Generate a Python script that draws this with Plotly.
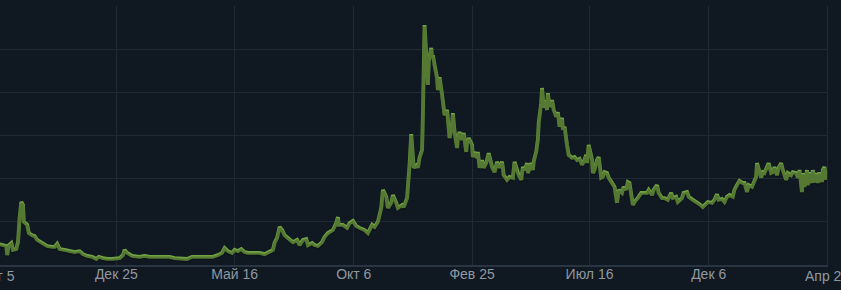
import pandas as pd
import plotly.graph_objects as go

# ---- data ----
start_date = "2021-08-05"
day_offsets = [
    2, 6, 10, 11, 13, 16, 18, 22, 24, 26, 28, 30, 31, 35, 37, 41, 44, 47, 53, 59,
    65, 68, 71, 74, 80, 86, 92, 98, 102, 107, 113, 118, 121, 126, 131, 137, 143, 146, 150, 152,
    155, 161, 170, 176, 182, 194, 206, 212, 221, 227, 233, 240, 251, 258, 264, 269, 272, 276, 281, 284,
    288, 292, 296, 300, 308, 314, 320, 326, 330, 332, 335, 338, 341, 344, 350, 354, 359, 362, 366, 370,
    372, 377, 380, 384, 389, 392, 396, 402, 406, 408, 409, 414, 419, 422, 426, 430, 434, 440, 444, 449,
    452, 456, 460, 462, 466, 468, 472, 474, 478, 480, 485, 487, 491, 492, 494, 496, 498, 499, 503, 504,
    506, 509, 510, 511, 512, 514, 515, 516, 517, 520, 521, 522, 524, 527, 528, 530, 533, 534, 536, 539,
    540, 542, 545, 546, 548, 551, 552, 554, 557, 559, 562, 563, 565, 569, 570, 572, 575, 576, 578, 581,
    583, 586, 589, 593, 596, 599, 602, 605, 607, 611, 614, 618, 620, 623, 625, 628, 630, 632, 635, 636,
    640, 642, 643, 646, 648, 649, 652, 653, 655, 656, 659, 660, 662, 665, 667, 670, 672, 674, 677, 678,
    680, 683, 685, 689, 692, 695, 698, 701, 703, 706, 707, 709, 713, 714, 716, 719, 721, 724, 726, 728,
    731, 733, 737, 740, 743, 745, 749, 751, 754, 756, 758, 761, 762, 766, 768, 772, 774, 779, 781, 785,
    787, 791, 793, 797, 800, 804, 808, 810, 814, 816, 821, 823, 827, 829, 834, 839, 842, 846, 850, 852,
    857, 860, 863, 865, 869, 872, 875, 878, 882, 884, 887, 890, 894, 896, 899, 901, 905, 907, 910, 911,
    913, 916, 918, 920, 923, 925, 928, 930, 932, 935, 937, 940, 942, 943, 946, 948, 952, 954, 958, 960,
    962, 965, 966, 968, 971, 972, 974, 977, 978, 980, 983, 984, 986, 989, 990, 992, 994,
]
prices = [
    0.48, 0.46, 0.44, 0.23, 0.46, 0.51, 0.35, 0.37, 0.53, 1.09, 1.46, 1.39, 1.00, 0.93, 0.74, 0.69, 0.67, 0.58, 0.51, 0.44,
    0.42, 0.42, 0.49, 0.37, 0.35, 0.32, 0.30, 0.32, 0.25, 0.21, 0.19, 0.14, 0.19, 0.16, 0.14, 0.14, 0.16, 0.16, 0.23, 0.35,
    0.28, 0.21, 0.19, 0.21, 0.19, 0.19, 0.19, 0.16, 0.14, 0.14, 0.19, 0.19, 0.19, 0.19, 0.23, 0.28, 0.39, 0.32, 0.28, 0.35,
    0.32, 0.37, 0.30, 0.28, 0.28, 0.28, 0.25, 0.30, 0.35, 0.51, 0.63, 0.88, 0.81, 0.69, 0.58, 0.53, 0.58, 0.46, 0.58, 0.60,
    0.46, 0.51, 0.46, 0.44, 0.53, 0.65, 0.74, 0.81, 0.97, 1.11, 0.93, 0.93, 0.86, 0.97, 1.02, 0.90, 0.86, 0.81, 0.74, 0.93,
    0.88, 1.00, 1.32, 1.74, 1.58, 1.32, 1.44, 1.62, 1.44, 1.32, 1.39, 1.34, 1.55, 1.74, 2.32, 3.03, 2.39, 2.25, 2.32, 2.25,
    2.48, 2.66, 3.47, 4.86, 5.56, 4.86, 4.47, 4.17, 4.70, 5.03, 4.80, 4.86, 4.63, 4.33, 4.05, 4.35, 3.94, 3.71, 3.47, 3.59,
    3.31, 2.94, 3.24, 3.52, 3.08, 2.71, 2.94, 3.08, 2.90, 3.06, 2.62, 2.83, 2.94, 2.78, 2.50, 2.62, 2.48, 2.62, 2.25, 2.43,
    2.25, 2.36, 2.59, 2.27, 2.15, 2.39, 2.25, 2.39, 2.08, 1.97, 2.04, 2.02, 2.39, 2.15, 2.08, 1.97, 2.27, 2.20, 2.36, 2.13,
    2.36, 2.20, 2.39, 2.62, 2.90, 3.29, 3.75, 4.10, 3.64, 3.82, 3.59, 3.98, 3.66, 3.82, 3.59, 3.43, 3.54, 3.20, 3.41, 3.13,
    3.20, 2.78, 2.55, 2.48, 2.50, 2.43, 2.46, 2.32, 2.39, 2.55, 2.36, 2.78, 2.43, 2.13, 2.20, 2.43, 2.50, 2.02, 2.04, 2.15,
    2.13, 2.02, 1.90, 1.81, 1.44, 1.74, 1.67, 1.81, 1.74, 1.92, 1.90, 1.55, 1.39, 1.51, 1.55, 1.67, 1.67, 1.67, 1.74, 1.62,
    1.74, 1.85, 1.67, 1.55, 1.55, 1.51, 1.67, 1.55, 1.58, 1.46, 1.55, 1.67, 1.69, 1.58, 1.51, 1.46, 1.41, 1.34, 1.41, 1.46,
    1.44, 1.51, 1.64, 1.51, 1.53, 1.46, 1.58, 1.62, 1.58, 1.74, 1.85, 1.95, 1.90, 1.90, 1.69, 1.85, 1.81, 1.92, 2.04, 2.36,
    2.25, 2.02, 2.15, 2.13, 2.27, 2.36, 2.13, 2.15, 2.27, 2.08, 2.25, 2.36, 2.20, 2.13, 1.97, 2.13, 2.08, 2.15, 2.13, 2.02,
    2.20, 1.69, 2.13, 1.81, 2.20, 1.85, 2.15, 1.90, 2.20, 1.92, 2.13, 1.90, 2.15, 1.92, 2.20, 2.27, 1.97,
]
tick_dates = ["2021-08-05", "2021-12-25", "2022-05-16", "2022-10-06",
              "2023-02-25", "2023-07-16", "2023-12-06", "2024-04-26"]
tick_text = ["Авг 5", "Дек 25", "Май 16", "Окт 6", "Фев 25", "Июл 16", "Дек 6", "Апр 26"]

# ---- styling ----
BG = "#101822"
GRID = "#1f2a37"
AXIS = "#2a3544"
LINE = "#72a243"
LABEL = "#8f98a0"
FONT = "Arial, Liberation Sans, sans-serif"

dates = pd.Timestamp(start_date) + pd.to_timedelta(day_offsets, unit="D")
x_start = pd.Timestamp(start_date) + pd.Timedelta(days=2.4)
x_end = pd.Timestamp(tick_dates[-1]) + pd.Timedelta(hours=1)
y_top = 6
shift = 1.5 * y_top / 259.0  # shadow offset

fig = go.Figure()
fig.add_trace(go.Scatter(x=dates, y=prices, mode="lines", yaxis="y2",
                         line=dict(color="rgba(0,0,0,0.25)", width=3.5),
                         hoverinfo="skip", showlegend=False))
fig.add_trace(go.Scatter(x=dates, y=prices, mode="lines",
                         line=dict(color=LINE, width=3.8), showlegend=False))

# tick labels lying at/just outside the visible range (cut off at the edges)
span = x_end - x_start
edge_labels = []
for d, t in [(tick_dates[0], tick_text[0]), (tick_dates[-1], tick_text[-1])]:
    frac = (pd.Timestamp(d) - x_start) / span
    edge_labels.append(dict(x=frac, y=0, xref="paper", yref="paper",
                            text=t, showarrow=False, xanchor="center",
                            yanchor="top", yshift=-1,
                            font=dict(family=FONT, size=14, color=LABEL)))

fig.update_layout(
    width=841, height=290,
    margin=dict(l=0, r=14, t=6, b=25),
    paper_bgcolor=BG, plot_bgcolor=BG,
    font=dict(family=FONT, size=14, color=LABEL),
    template="none",
    xaxis=dict(range=[x_start, x_end], type="date",
               tickmode="array", tickvals=tick_dates[1:-1], ticktext=tick_text[1:-1],
               showgrid=True, gridcolor=GRID, gridwidth=1,
               showline=True, linecolor=AXIS, linewidth=2,
               ticks="", zeroline=False, automargin=False, ticklabelstandoff=-5,
               tickfont=dict(family=FONT, size=14, color=LABEL)),
    yaxis=dict(range=[0, y_top], dtick=1, showgrid=True, gridcolor=GRID, gridwidth=1,
               showticklabels=False, ticks="", zeroline=False, side="right",
               showline=True, linecolor=GRID, linewidth=1, automargin=False),
    yaxis2=dict(range=[shift, y_top + shift], overlaying="y", visible=False),
    annotations=edge_labels,
)

fig.write_html("out.html")
